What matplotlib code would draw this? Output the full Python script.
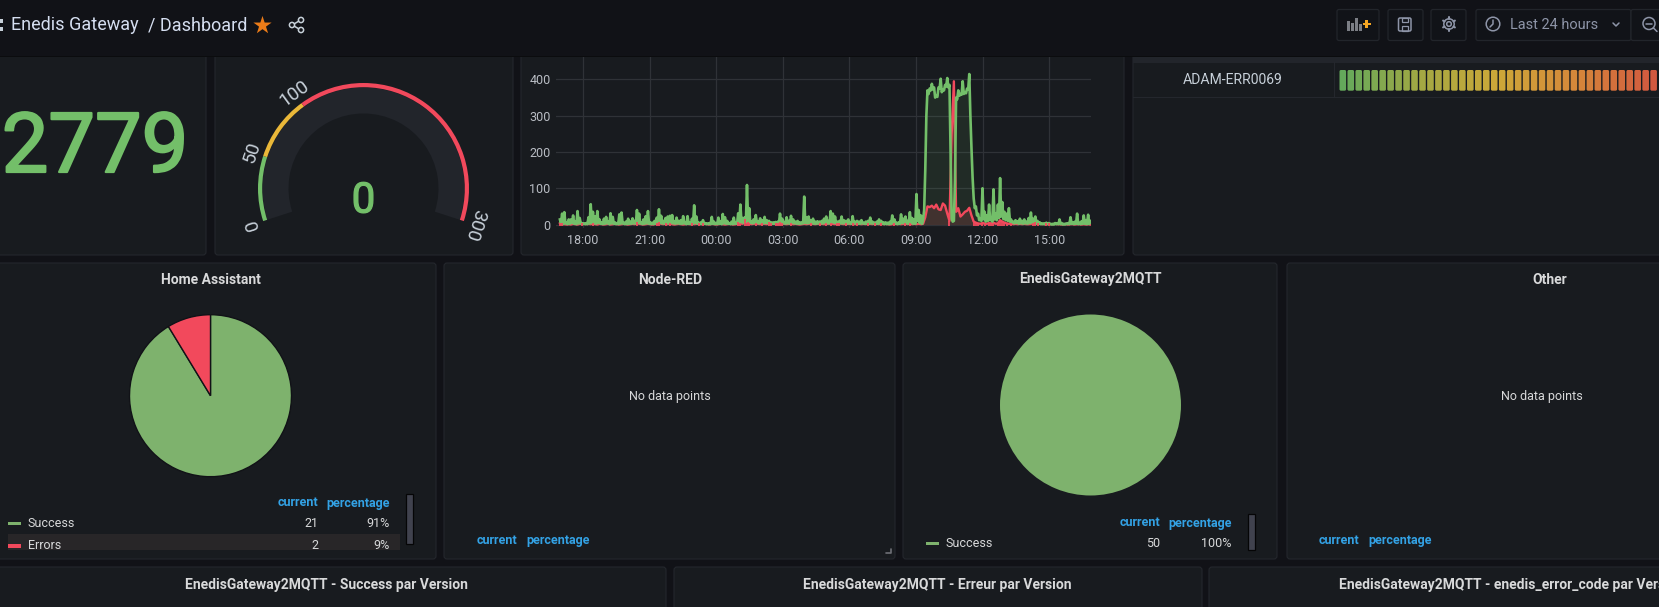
# coding=utf-8
import matplotlib
matplotlib.use('Agg')
import matplotlib.patheffects as pe
import matplotlib.pyplot as plt
import numpy as np
from matplotlib.colors import LinearSegmentedColormap
from matplotlib.patches import Circle, FancyBboxPatch, Rectangle, Wedge

W, H = 1659, 607

stat_value = '2779'
gauge_value = 0
gauge_ticks = [0, 50, 100, 300]
gauge_colors = ['#73bf69', '#eab839', '#f2495c']
time_labels = ['18:00', '21:00', '00:00', '03:00', '06:00', '09:00', '12:00', '15:00']
time_hours = [18, 21, 24, 27, 30, 33, 36, 39]
y_ticks = [0, 100, 200, 300, 400]

# requests per slot (about 6 minutes apart)
success = [
    14, 30, 34, 5, 14, 14, 25, 8, 37, 18,
    4, 3, 4, 20, 56, 35, 22, 37, 14, 6,
    16, 21, 8, 31, 21, 6, 4, 28, 33, 5,
    8, 16, 8, 17, 10, 40, 30, 6, 14, 23,
    37, 6, 5, 10, 19, 42, 24, 10, 18, 22,
    24, 26, 8, 19, 10, 12, 23, 5, 23, 6,
    16, 53, 22, 5, 6, 12, 4, 3, 4, 21,
    8, 4, 19, 8, 29, 20, 10, 4, 8, 19,
    6, 31, 55, 18, 20, 109, 45, 8, 14, 26,
    9, 17, 12, 21, 12, 10, 6, 6, 7, 8,
    30, 16, 7, 20, 10, 24, 14, 8, 10, 6,
    6, 77, 20, 22, 12, 16, 8, 9, 8, 10,
    16, 22, 10, 37, 30, 22, 8, 10, 22, 12,
    10, 14, 6, 23, 8, 10, 8, 12, 5, 8,
    10, 19, 8, 5, 8, 14, 10, 6, 6, 5,
    8, 25, 14, 5, 6, 28, 16, 22, 10, 34,
    18, 14, 84, 40, 25, 12, 150, 370, 375, 388,
    378, 355, 378, 402, 372, 385, 404, 385, 15, 10,
    350, 370, 360, 395, 365, 375, 415, 210, 72, 50,
    30, 15, 100, 35, 25, 55, 15, 97, 30, 55,
    128, 62, 35, 30, 45, 14, 8, 12, 9, 16,
    10, 14, 8, 18, 33, 16, 22, 10, 6, 3,
    3, 5, 4, 2, 2, 4, 3, 14, 4, 2,
    3, 4, 20, 6, 8, 30, 5, 9, 25, 12,
    27, 10,
]
# the lows between those slots
success_lows = [
    2, 1, 3, 1, 2, 4, 2, 1, 3, 2,
    1, 1, 1, 3, 4, 3, 2, 4, 2, 1,
    2, 3, 1, 3, 2, 1, 1, 2, 3, 1,
    1, 2, 2, 3, 2, 4, 3, 1, 2, 3,
    2, 1, 1, 2, 3, 4, 3, 2, 3, 3,
    4, 3, 2, 3, 2, 2, 3, 1, 2, 1,
    2, 4, 2, 1, 1, 2, 1, 1, 1, 2,
    1, 1, 2, 1, 3, 2, 2, 1, 1, 2,
    2, 4, 6, 4, 6, 10, 5, 3, 4, 4,
    3, 4, 3, 4, 3, 3, 2, 2, 2, 2,
    4, 3, 2, 3, 2, 4, 3, 2, 2, 2,
    3, 4, 3, 4, 3, 2, 2, 3, 2, 3,
    4, 3, 3, 6, 5, 3, 2, 3, 3, 3,
    2, 3, 2, 3, 2, 2, 2, 3, 2, 2,
    2, 3, 2, 1, 2, 3, 2, 1, 1, 1,
    2, 4, 2, 1, 2, 4, 3, 3, 2, 4,
    2, 2, 10, 4, 2, 40, 300, 360, 370, 372,
    350, 352, 375, 365, 370, 380, 378, 200, 8, 120,
    345, 355, 358, 360, 362, 372, 300, 130, 45, 25,
    12, 10, 15, 8, 10, 12, 8, 14, 12, 18,
    22, 15, 12, 10, 8, 5, 3, 4, 2, 3,
    2, 3, 2, 4, 5, 3, 2, 2, 1, 1,
    0, 1, 1, 0, 0, 1, 1, 1, 0, 0,
    1, 1, 2, 1, 2, 1, 1, 2, 2, 1,
    2, 2,
]
errors = [
    3, 5, 1, 0, 1, 0, 2, 1, 0, 2,
    3, 2, 1, 2, 1, 3, 1, 0, 2, 1,
    0, 1, 2, 0, 1, 2, 1, 0, 1, 2,
    1, 0, 1, 2, 1, 6, 2, 1, 0, 1,
    2, 1, 0, 1, 3, 6, 2, 1, 3, 1,
    5, 1, 0, 1, 2, 1, 0, 1, 2, 1,
    3, 1, 2, 3, 1, 4, 2, 1, 0, 2,
    1, 0, 1, 2, 1, 0, 1, 2, 1, 0,
    1, 8, 3, 2, 14, 5, 3, 1, 2, 3,
    2, 1, 3, 2, 1, 7, 3, 2, 4, 5,
    6, 3, 2, 1, 2, 3, 1, 2, 1, 0,
    1, 2, 1, 2, 3, 2, 1, 2, 3, 2,
    1, 3, 2, 4, 2, 1, 3, 5, 2, 1,
    3, 2, 1, 5, 1, 3, 2, 1, 2, 1,
    4, 2, 1, 5, 2, 1, 3, 1, 2, 1,
    0, 1, 3, 1, 2, 1, 2, 3, 1, 3,
    1, 2, 1, 2, 1, 2, 20, 50, 48, 52,
    45, 55, 42, 40, 58, 52, 30, 10, 250, 395,
    35, 45, 22, 28, 35, 38, 46, 25, 8, 5,
    3, 2, 4, 3, 2, 4, 3, 5, 2, 3,
    12, 8, 5, 3, 2, 3, 1, 2, 1, 2,
    1, 2, 1, 1, 2, 3, 8, 4, 2, 1,
    2, 4, 3, 1, 1, 2, 1, 1, 0, 1,
    1, 0, 1, 1, 0, 1, 1, 0, 1, 0,
    1, 0,
]

ha_labels = ['Success', 'Errors']
ha_values = [21, 2]
ha_percent = ['91%', '9%']
ha_colors = ['#7eb26d', '#f2495c']
e2m_labels = ['Success']
e2m_values = [50]
e2m_percent = ['100%']
bar_label = 'ADAM-ERR0069'
bar_cells = 40

BG = '#111217'
PANEL = '#181b1f'
BORDER = '#24272d'
TEXT = '#d8d9da'
MUTED = '#c7d0d9'
BLUE = '#33a2e5'
GREEN = '#73bf69'
RED = '#f2495c'

plt.rcParams['font.family'] = ['Roboto', 'DejaVu Sans']

fig = plt.figure(figsize=(W / 100, H / 100), dpi=100, facecolor=BG)
page = fig.add_axes([0, 0, 1, 1])
page.set_xlim(0, W)
page.set_ylim(H, 0)
page.axis('off')


def px_axes(x0, y0, x1, y1):
    return fig.add_axes([x0 / W, 1 - y1 / H, (x1 - x0) / W, (y1 - y0) / H])


def label(x, y, s, size, color=TEXT, ha='left', weight='normal'):
    # va center sits a little high for these fonts
    return page.text(x, y + 2, s, fontsize=size * 0.72, color=color, ha=ha, va='center',
                     fontweight=weight, clip_on=True)


def panel(x0, y0, x1, y1):
    page.add_patch(FancyBboxPatch((x0, y0), x1 - x0, y1 - y0,
                                  boxstyle='round,pad=0,rounding_size=3',
                                  fc=PANEL, ec=BORDER, lw=0.8))


def rect(x, y, w, h, color, **kw):
    page.add_patch(Rectangle((x, y), w, h, fc=color, ec=kw.pop('ec', 'none'), **kw))


def ring(x, y, r, color, lw=1.1):
    page.add_patch(Circle((x, y), r, fc='none', ec=color, lw=lw))


def stroke(xs, ys, color, lw=1.1):
    page.plot(xs, ys, color=color, lw=lw, solid_capstyle='round')


# panels
panel(-10, 50, 206, 255)
panel(215, 50, 513, 255)
panel(521, 50, 1124, 255)
panel(1133, 50, 1680, 255)
panel(-10, 263, 436, 559)
panel(444, 263, 895, 559)
panel(903, 263, 1277, 559)
panel(1287, 263, 1680, 559)
panel(-10, 567, 666, 640)
panel(674, 567, 1202, 640)
panel(1209, 567, 1680, 640)

# top bar
rect(0, 0, W, 57, BG)
rect(0, 56, W, 1, '#0b0c0e')
rect(0, 19, 2.5, 4, MUTED)
rect(0, 27, 2.5, 4, MUTED)
label(11, 23, 'Enedis Gateway', 18, '#d5def0')
label(148, 23, '/ Dashboard', 18, '#d5def0')
page.scatter([262], [25], marker='*', s=190, color='#eb7b18', linewidths=0, zorder=3)
for cx, cy in [(292, 25), (301, 20), (301, 30)]:
    ring(cx, cy, 2.6, MUTED)
stroke([294.3, 298.7], [23.8, 21.2], MUTED)
stroke([294.3, 298.7], [26.2, 28.8], MUTED)

for x0, x1 in [(1337, 1379), (1388, 1423), (1431, 1466), (1476, 1631), (1631, 1670)]:
    page.add_patch(FancyBboxPatch((x0, 9.5), x1 - x0, 31,
                                  boxstyle='round,pad=0,rounding_size=2',
                                  fc='#111318', ec='#22252b', lw=0.9))
for bx, top in [(1347, 21), (1351, 23), (1355, 18), (1359, 24)]:
    rect(bx, top, 3, 30.5 - top, '#7b7e85')
rect(1362.5, 22.8, 8, 2.6, '#f5a623')
rect(1365.2, 20, 2.6, 8, '#f5a623')
grey = '#8e95a8'
page.add_patch(FancyBboxPatch((1398.5, 18), 12.5, 13, boxstyle='round,pad=0,rounding_size=1.5',
                              fc='none', ec=grey, lw=1.1))
rect(1401.5, 18, 6, 4, 'none', ec=grey, lw=0.9)
rect(1401.5, 26, 6, 5, 'none', ec=grey, lw=0.9)
ring(1449, 24, 2.3, grey)
ring(1449, 24, 5.2, grey)
for a in np.radians(np.arange(0, 360, 60) + 30):
    stroke([1449 + 5.2 * np.cos(a), 1449 + 6.8 * np.cos(a)],
           [24 + 5.2 * np.sin(a), 24 + 6.8 * np.sin(a)], grey, lw=1.5)
ring(1493, 24, 6.8, grey)
stroke([1493, 1493, 1490], [20, 24, 27], grey)
label(1510, 23, 'Last 24 hours', 14.5, grey)
stroke([1613, 1616, 1619], [23, 26, 23], grey)
ring(1649, 23.5, 6, grey)
stroke([1653.5, 1657], [28, 31.5], grey)
stroke([1646, 1652], [23.5, 23.5], grey)

# stat
stat = label(95, 147, stat_value, 83, GREEN, ha='center')
stat.set_path_effects([pe.withStroke(linewidth=1.6, foreground=GREEN)])


# gauge
def gauge_angle(v):
    return 198 - 216 * v / gauge_ticks[-1]


gx, gy = 363.5, 188.5
page.add_patch(Wedge((gx, gy), 101, -gauge_angle(0), -gauge_angle(gauge_ticks[-1]),
                     width=26, fc='#22252b', ec='none'))
for start, end, col in zip(gauge_ticks[:-1], gauge_ticks[1:], gauge_colors):
    page.add_patch(Wedge((gx, gy), 105.5, -gauge_angle(start), -gauge_angle(end),
                         width=4.2, fc=col, ec='none'))
for t in gauge_ticks:
    a = gauge_angle(t)
    tx = gx + 117 * np.cos(np.radians(a))
    ty = gy - 117 * np.sin(np.radians(a))
    page.text(tx, ty, str(t), fontsize=19 * 0.72, color=MUTED, ha='center', va='center',
              rotation=a - 90, rotation_mode='anchor')
val = label(gx, 199, str(gauge_value), 42, GREEN, ha='center')
val.set_path_effects([pe.withStroke(linewidth=0.9, foreground=GREEN)])

# time series
ax = px_axes(556, 57, 1091, 228)
ax.patch.set_alpha(0)
t = np.linspace(16.96, 40.85, len(success))
t_mid = (t[:-1] + t[1:]) / 2
xs = np.empty(len(t) + len(t_mid))
xs[0::2] = t
xs[1::2] = t_mid
ys = np.empty(len(xs))
ys[0::2] = success
ys[1::2] = success_lows[:len(t_mid)]
err = np.array(errors)
ax.fill_between(t, err, color=RED, alpha=0.17, lw=0)
ax.plot(t, err, color=RED, lw=1.7)
ax.fill_between(xs, ys, color=GREEN, alpha=0.1, lw=0)
ax.plot(xs, ys, color=GREEN, lw=1.9)
# small error counts still show through at the foot of the green
low = err < 20
ax.vlines(t[low & (err >= 3)], -3, err[low & (err >= 3)], color=RED, lw=1.3)
ax.set_xlim(16.784, 40.88)
ax.set_ylim(-9.6, 462)
ax.set_xticks(time_hours)
ax.set_xticklabels(time_labels)
ax.set_yticks(y_ticks)
ax.tick_params(length=0, labelsize=12.5 * 0.72, labelcolor='#b9bdc4', pad=4)
ax.grid(True, color='#2f3237', lw=0.9)
ax.set_axisbelow(True)
for s in ax.spines.values():
    s.set_visible(False)

# bar gauge table
rect(1133, 57, 530, 5.5, '#22252b')
rect(1133, 97, 530, 1, '#24272d')
rect(1333.5, 62, 1, 35, '#24272d')
label(1233, 78, bar_label, 14, MUTED, ha='center')
cmap = LinearSegmentedColormap.from_list(
    'bar', ['#64a95b', '#a3a843', '#cda838', '#d5873a', '#d2593f'])
for i in range(bar_cells):
    page.add_patch(FancyBboxPatch((1339.5 + i * 7.97, 70), 6.6, 20.7,
                                  boxstyle='round,pad=0,rounding_size=1.5',
                                  fc=cmap(i / (bar_cells - 1)), ec='none'))


# pies
def pie(cx, cy, r, values, colors):
    a = px_axes(cx - r, cy - r, cx + r, cy + r)
    a.pie(values, colors=colors, startangle=90, counterclock=False, radius=1,
          wedgeprops={'edgecolor': '#111217' if len(values) > 1 else 'none', 'linewidth': 1})
    a.set_xlim(-1, 1)
    a.set_ylim(-1, 1)


def legend(x_sw, x_txt, right1, right2, y_head, y_first, labels, values, percents, colors, bar_x, bar_y):
    label(right1, y_head, 'current', 12.5, BLUE, ha='right', weight='bold')
    label(right2, y_head, 'percentage', 12.5, BLUE, ha='right', weight='bold')
    for i, (name, val, pct, col) in enumerate(zip(labels, values, percents, colors)):
        y = y_first + i * 22.2
        if i == 1:
            rect(x_sw, y - 10, right2 + 10 - x_sw, 16, '#282628')
        rect(x_sw, y + 0.5, 13, 3.2, col)
        label(x_txt, y, name, 12.5, ha='left')
        label(right1, y, str(val), 12.5, ha='right')
        label(right2, y, pct, 12.5, ha='right')
    page.add_patch(Rectangle((bar_x, bar_y[0]), 7.5, bar_y[1] - bar_y[0],
                             fc='#40424e', ec='#050506', lw=0.9))


label(210.5, 277.5, 'Home Assistant', 13.9, weight='bold', ha='center')
pie(210.5, 395.7, 81, ha_values, ha_colors)
legend(8, 28, 318, 390, 501, 521.7, ha_labels, ha_values, ha_percent, ha_colors, 405.5, (493.5, 543.5))

label(670, 277.5, 'Node-RED', 13.9, weight='bold', ha='center')
label(670, 394.5, 'No data points', 12.5, ha='center')
label(477, 538.5, 'current', 12.5, BLUE, weight='bold')
label(526, 538.5, 'percentage', 12.5, BLUE, weight='bold')
stroke([885.5, 890.5, 890.5], [553, 553, 549], '#6e7076', lw=1.2)

label(1090, 277.5, 'EnedisGateway2MQTT', 13.9, weight='bold', ha='center')
pie(1090.5, 405, 90.5, e2m_values, ha_colors[:1])
legend(926, 946, 1160.7, 1231.7, 521, 541.7, e2m_labels, e2m_values, e2m_percent, ha_colors,
       1247.5, (513.5, 549.5))

label(1550, 277.5, 'Other', 13.9, weight='bold', ha='center')
label(1542, 394.5, 'No data points', 12.5, ha='center')
label(1319, 538.5, 'current', 12.5, BLUE, weight='bold')
label(1368, 538.5, 'percentage', 12.5, BLUE, weight='bold')

label(326, 583.5, 'EnedisGateway2MQTT - Success par Version', 13.9, weight='bold', ha='center')
label(937.5, 583.5, 'EnedisGateway2MQTT - Erreur par Version', 13.9, weight='bold', ha='center')
label(1339, 583.5, 'EnedisGateway2MQTT - enedis_error_code par Version', 13.9, weight='bold')

fig.savefig('out.png', dpi=100, facecolor=BG)
